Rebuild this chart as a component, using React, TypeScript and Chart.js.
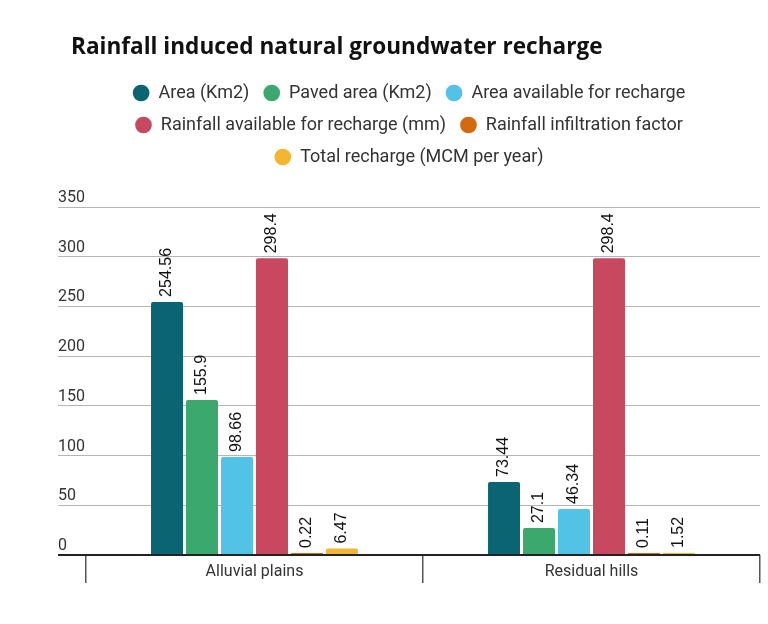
import React, { useEffect, useRef } from "react";
import { Chart, registerables } from "chart.js";

Chart.register(...registerables);

const TITLE = "Rainfall induced natural groundwater recharge";
const categories = ["Alluvial plains", "Residual hills"];

const seriesNames = [
  "Area (Km2)",
  "Paved area (Km2)",
  "Area available for recharge",
  "Rainfall available for recharge (mm)",
  "Rainfall infiltration factor",
  "Total recharge (MCM per year)",
];

const areaKm2 = [254.56, 73.44];
const pavedAreaKm2 = [155.9, 27.1];
const areaForRecharge = [98.66, 46.34];
const rainfallForRecharge = [298.4, 298.4];
const infiltrationFactor = [0.22, 0.11];
const totalRecharge = [6.47, 1.52];

const seriesValues = [
  areaKm2,
  pavedAreaKm2,
  areaForRecharge,
  rainfallForRecharge,
  infiltrationFactor,
  totalRecharge,
];

const seriesColors = ["#0b6472", "#3ba96d", "#52c2e6", "#c8485f", "#d5690f", "#f4b533"];

const yTicks = [0, 50, 100, 150, 200, 250, 300, 350];

const FONT = "Roboto, 'Noto Sans', sans-serif";

// Title drawn flush with the left edge of the plot block
const titlePlugin = {
  id: "titleText",
  afterDraw(chart: any) {
    const ctx = chart.ctx;
    ctx.save();
    ctx.font = `bold 22.6px 'Open Sans', ${FONT}`;
    ctx.fillStyle = "#111";
    ctx.textAlign = "left";
    ctx.textBaseline = "alphabetic";
    ctx.fillText(TITLE, 71, 54);
    ctx.restore();
  },
};

// Extra space between legend and plot area
const legendSpacer = {
  id: "legendSpacer",
  beforeLayout(chart: any) {
    const legend = chart.legend;
    if (legend && !legend.__wrapped) {
      const orig = legend.fit;
      legend.fit = function () {
        orig.call(this);
        this.height = 137;
      };
      legend.__wrapped = true;
    }
  },
};

// Y tick labels sit above their grid lines at the far left
const yLabels = {
  id: "yLabels",
  afterDraw(chart: any) {
    const ctx = chart.ctx;
    const y = chart.scales.y;
    ctx.save();
    ctx.font = `16px ${FONT}`;
    ctx.fillStyle = "#333";
    ctx.textAlign = "left";
    ctx.textBaseline = "alphabetic";
    yTicks.forEach((v) => {
      ctx.fillText(String(v), 58, y.getPixelForValue(v) - 5);
    });
    ctx.restore();
  },
};

// Rotated value labels above each bar
const valueLabels = {
  id: "valueLabels",
  afterDatasetsDraw(chart: any) {
    const ctx = chart.ctx;
    ctx.save();
    ctx.font = `16px 'Liberation Sans', Arial, sans-serif`;
    ctx.fillStyle = "#111";
    ctx.textAlign = "left";
    ctx.textBaseline = "middle";
    chart.data.datasets.forEach((ds: any, di: number) => {
      const meta = chart.getDatasetMeta(di);
      meta.data.forEach((bar: any, i: number) => {
        ctx.save();
        ctx.translate(bar.x, bar.y - 5);
        ctx.rotate(-Math.PI / 2);
        ctx.fillText(String(ds.data[i]), 0, 0);
        ctx.restore();
      });
    });
    ctx.restore();
  },
};

export default function App() {
  const canvasRef = useRef<HTMLCanvasElement | null>(null);

  useEffect(() => {
    if (!canvasRef.current) return;
    const chart = new Chart(canvasRef.current, {
      type: "bar",
      data: {
        labels: categories,
        datasets: seriesNames.map((name, i) => ({
          label: name,
          data: seriesValues[i],
          backgroundColor: seriesColors[i],
          borderWidth: 0,
          borderRadius: { topLeft: 2, topRight: 2, bottomLeft: 0, bottomRight: 0 },
          borderSkipped: "bottom",
          minBarLength: 2,
          categoryPercentage: 0.623,
          barPercentage: 0.914,
        })),
      },
      options: {
        animation: false,
        responsive: false,
        maintainAspectRatio: false,
        layout: { padding: { top: 70, left: 58, right: 8, bottom: 29 } },
        plugins: {
          title: { display: false },
          tooltip: { enabled: false },
          legend: {
            display: true,
            position: "top",
            align: "center",
            labels: {
              usePointStyle: true,
              pointStyle: "circle",
              boxHeight: 11.8,
              pointStyleWidth: 16.7,
              padding: 14,
              color: "#333",
              font: { family: FONT, size: 18 },
            },
          },
        },
        scales: {
          x: {
            grid: {
              offset: true,
              drawOnChartArea: false,
              drawTicks: true,
              tickLength: 28,
              color: "#555",
              lineWidth: 1.5,
            },
            border: { display: false },
            ticks: {
              color: "#333",
              padding: -21,
              font: { family: FONT, size: 16 },
            },
            afterFit: (s: any) => {
              s.height = 40;
            },
          },
          y: {
            min: 0,
            max: 350,
            ticks: { display: false, stepSize: 50 },
            border: { display: false },
            grid: {
              drawTicks: true,
              tickLength: 28,
              color: (c: any) => (c.tick && c.tick.value === 0 ? "#222" : "#b5b5b5"),
              lineWidth: (c: any) => (c.tick && c.tick.value === 0 ? 2 : 1),
            },
            afterFit: (s: any) => {
              s.width = 28;
            },
          },
        },
      },
      plugins: [legendSpacer, titlePlugin, yLabels, valueLabels],
    });
    return () => chart.destroy();
  }, []);

  return (
    <div style={{ position: "absolute", left: 0, top: 0, width: 768, height: 624, background: "#fff" }}>
      <canvas ref={canvasRef} width={768} height={624} style={{ display: "block", width: 768, height: 624 }} />
    </div>
  );
}
